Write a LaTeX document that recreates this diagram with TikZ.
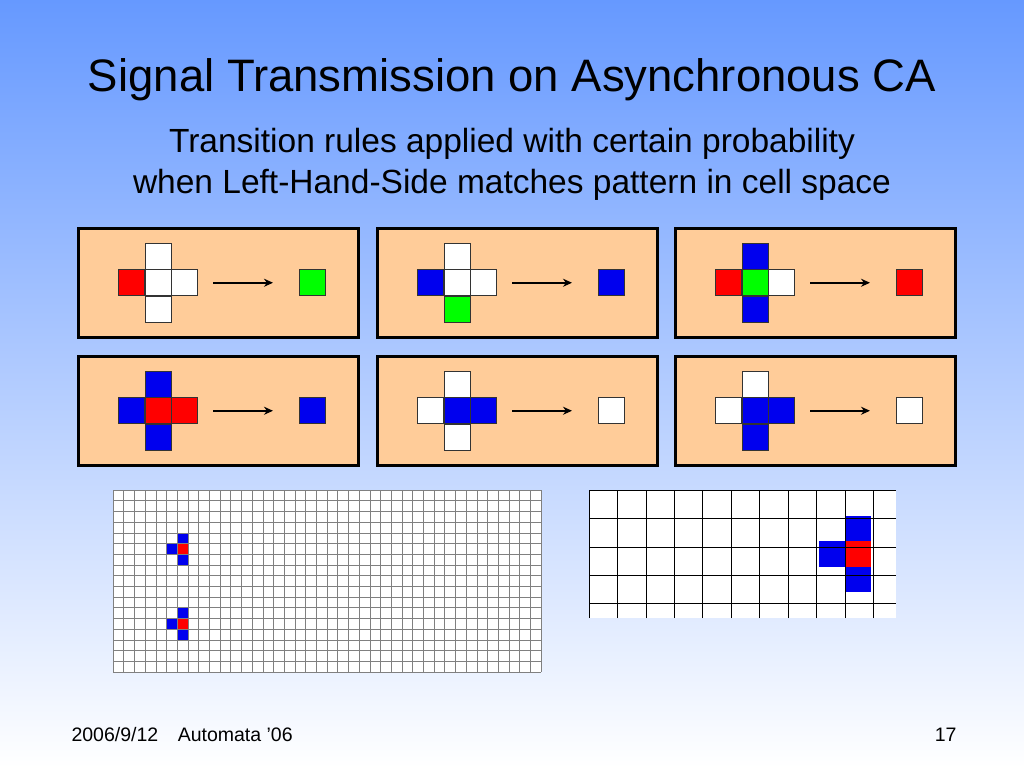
\documentclass[tikz,border=0pt]{standalone}
\usepackage{fontspec}
\setmainfont{Liberation Sans}
\usetikzlibrary{positioning, arrows.meta}
\definecolor{skyblue}{HTML}{6699FF}
\definecolor{peach}{HTML}{FFCC99}
\definecolor{cablue}{HTML}{0000EE}
\definecolor{cared}{HTML}{FF0000}
\definecolor{cagreen}{HTML}{00FF00}
\tikzset{
  panel/.style={draw=black, line width=2.5pt, fill=peach, minimum width=280pt, minimum height=109pt, inner sep=0pt},
  cell/.style={draw=black!80, line width=0.6pt, minimum size=26pt, inner sep=0pt},
  arrow/.style={line width=1.8pt, -{Stealth[length=9pt, width=8pt]}},
  gridline/.style={draw=gray, line width=0.6pt},
}
% one rule panel: #1 name, #2 x, #3 y, then up, left, centre, right, down, result
\newcommand{\rulepanel}[9]{%
  \node [panel, anchor=north west] (#1) at (#2,#3) {};
  \node [cell, fill=#6] (#1c) at ([xshift=81pt]#1.west) {};
  \node [cell, fill=#5, left=0pt of #1c] (#1l) {};
  \node [cell, fill=#7, right=0pt of #1c] (#1r) {};
  \node [cell, fill=#4, above=0pt of #1c] (#1u) {};
  \node [cell, fill=#8, below=0pt of #1c] (#1d) {};
  \node [cell, fill=#9] (#1res) at ([xshift=235pt]#1.west) {};
  \coordinate (#1a) at ([xshift=136pt]#1.west);
  \coordinate (#1b) at ([xshift=196pt]#1.west);
  \draw [arrow] (#1a) -- (#1b);
}
\begin{document}
\begin{tikzpicture}[x=1pt, y=-1pt]
  \shade [top color=skyblue, bottom color=white] (0,0) rectangle (1024,768);
  \useasboundingbox (0,0) rectangle (1024,768);

  \node (title) at (512,80) {\fontsize{45.5}{54}\selectfont Signal Transmission on Asynchronous CA};
  \node (sub1) at (512,144) {\fontsize{33.5}{40}\selectfont Transition rules applied with certain probability};
  \node (sub2) at (512,185) {\fontsize{33.5}{40}\selectfont when Left-Hand-Side matches pattern in cell space};

  \rulepanel{pa}{77}{227}{white}{cared}{white}{white}{white}{cagreen}
  \rulepanel{pb}{376}{227}{white}{cablue}{white}{white}{cagreen}{cablue}
  \rulepanel{pc}{674}{227}{cablue}{cared}{cagreen}{white}{cablue}{cared}
  \rulepanel{pd}{77}{355}{cablue}{cablue}{cared}{cared}{cablue}{cablue}
  \rulepanel{pe}{376}{355}{white}{white}{cablue}{cablue}{white}{white}
  \rulepanel{pf}{674}{355}{white}{white}{cablue}{cablue}{cablue}{white}

  % small cell space
  \begin{scope}[shift={(113,490)}, x=10.7pt, y=-10.7pt]
    \fill [white] (0,0) rectangle (40,17);
    \foreach \r in {4,11} {
      \fill [cablue] (6,\r) rectangle +(1,1);
      \fill [cablue] (5,\r+1) rectangle +(1,1);
      \fill [cared] (6,\r+1) rectangle +(1,1);
      \fill [cablue] (6,\r+2) rectangle +(1,1);
    }
    \foreach \i in {0,...,40} \draw [gridline] (\i,0) -- (\i,17);
    \foreach \j in {0,...,17} \draw [gridline] (0,\j) -- (40,\j);
  \end{scope}

  % large cell space
  \begin{scope}[shift={(589,490)}, x=25.6pt, y=-25.6pt]
    \fill [white] (0,0) rectangle (12,5);
    \fill [cablue] (10,1) rectangle +(1,1);
    \fill [cablue] (9,2) rectangle +(1,1);
    \fill [cared] (10,2) rectangle +(1,1);
    \fill [cablue] (10,3) rectangle +(1,1);
    \draw [black, line width=0.8pt] (0,0) grid (12,5);
  \end{scope}

  \node [anchor=west] (date) at (68,735) {\fontsize{19.5}{23}\selectfont 2006/9/12\quad Automata \char"0027 06};
  \node [anchor=east] (page) at (960,735) {\fontsize{19.5}{23}\selectfont 17};
\end{tikzpicture}
\end{document}
